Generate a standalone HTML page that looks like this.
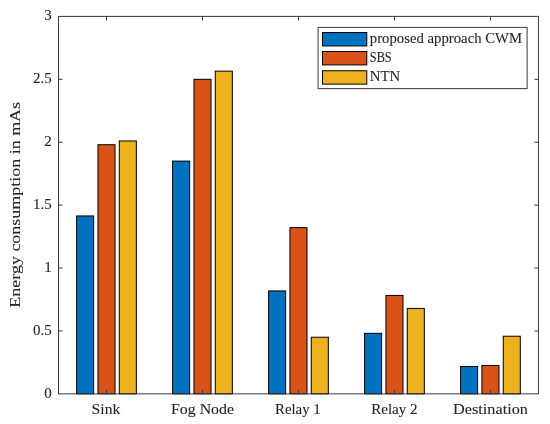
<!DOCTYPE html>
<html lang="en">
<head>
<meta charset="utf-8">
<title>Energy consumption in mAs</title>
<style>
html,body{margin:0;padding:0;background:#fff;}
svg{display:block;}
text{font-family:"Liberation Serif",serif;fill:#262626;stroke:#262626;stroke-width:0.1px;}
.tk{font-size:15px;}
.yl{font-size:15px;}
</style>
</head>
<body>
<svg width="550" height="424" viewBox="0 0 550 424">
<rect x="0" y="0" width="550" height="424" fill="#ffffff"/>
<g stroke="#000" stroke-width="1" stroke-linejoin="miter">
<rect x="76.63" y="215.95" width="17.06" height="177.90" fill="#0072BD"/>
<rect x="97.96" y="144.73" width="17.06" height="249.12" fill="#D95319"/>
<rect x="119.29" y="140.96" width="17.06" height="252.89" fill="#EDB120"/>
<rect x="172.62" y="161.09" width="17.06" height="232.76" fill="#0072BD"/>
<rect x="193.95" y="79.31" width="17.06" height="314.54" fill="#D95319"/>
<rect x="215.28" y="71.13" width="17.06" height="322.72" fill="#EDB120"/>
<rect x="268.61" y="290.93" width="17.06" height="102.92" fill="#0072BD"/>
<rect x="289.94" y="227.65" width="17.06" height="166.20" fill="#D95319"/>
<rect x="311.27" y="337.23" width="17.06" height="56.62" fill="#EDB120"/>
<rect x="364.60" y="333.33" width="17.06" height="60.52" fill="#0072BD"/>
<rect x="385.93" y="295.46" width="17.06" height="98.39" fill="#D95319"/>
<rect x="407.26" y="308.42" width="17.06" height="85.43" fill="#EDB120"/>
<rect x="460.59" y="366.55" width="17.06" height="27.30" fill="#0072BD"/>
<rect x="481.92" y="365.54" width="17.06" height="28.31" fill="#D95319"/>
<rect x="503.25" y="336.23" width="17.06" height="57.62" fill="#EDB120"/>
</g>
<g stroke="#3a3a3a" stroke-width="1" fill="none">
<rect x="58.50" y="16.40" width="479.95" height="377.45"/>
<path d="M106.50 393.85v-4.00 M106.50 16.40v4.00 M202.49 393.85v-4.00 M202.49 16.40v4.00 M298.48 393.85v-4.00 M298.48 16.40v4.00 M394.47 393.85v-4.00 M394.47 16.40v4.00 M490.46 393.85v-4.00 M490.46 16.40v4.00 M58.50 330.94h4.00 M538.45 330.94h-4.00 M58.50 268.03h4.00 M538.45 268.03h-4.00 M58.50 205.12h4.00 M538.45 205.12h-4.00 M58.50 142.22h4.00 M538.45 142.22h-4.00 M58.50 79.31h4.00 M538.45 79.31h-4.00"/>
</g>
<text class="tk" x="51.7" y="397.55" text-anchor="end">0</text>
<text class="tk" x="51.7" y="334.64" text-anchor="end">0.5</text>
<text class="tk" x="51.7" y="271.73" text-anchor="end">1</text>
<text class="tk" x="51.7" y="208.82" text-anchor="end">1.5</text>
<text class="tk" x="51.7" y="145.92" text-anchor="end">2</text>
<text class="tk" x="51.7" y="83.01" text-anchor="end">2.5</text>
<text class="tk" x="51.7" y="20.10" text-anchor="end">3</text>
<text class="tk" x="106.00" y="413.6" text-anchor="middle" textLength="28.8" lengthAdjust="spacingAndGlyphs">Sink</text>
<text class="tk" x="202.49" y="413.6" text-anchor="middle" textLength="62.9" lengthAdjust="spacingAndGlyphs">Fog Node</text>
<text class="tk" x="297.88" y="413.6" text-anchor="middle" textLength="45.8" lengthAdjust="spacingAndGlyphs">Relay 1</text>
<text class="tk" x="394.37" y="413.6" text-anchor="middle" textLength="46.3" lengthAdjust="spacingAndGlyphs">Relay 2</text>
<text class="tk" x="490.46" y="413.6" text-anchor="middle" textLength="74.9" lengthAdjust="spacingAndGlyphs">Destination</text>
<text class="yl" transform="translate(20.4 204.80) rotate(-90)" text-anchor="middle" textLength="205.7" lengthAdjust="spacingAndGlyphs">Energy consumption in mAs</text>
<rect x="318.1" y="27.4" width="209" height="61.2" fill="#fff" stroke="#3a3a3a" stroke-width="1"/>
<rect x="322.5" y="32.55" width="44.3" height="13.4" fill="#0072BD" stroke="#000" stroke-width="1"/>
<text class="tk" x="369.8" y="42.85" textLength="152.3" lengthAdjust="spacingAndGlyphs">proposed approach CWM</text>
<rect x="322.5" y="51.50" width="44.3" height="13.4" fill="#D95319" stroke="#000" stroke-width="1"/>
<text class="tk" x="369.8" y="61.80" textLength="21.9" lengthAdjust="spacingAndGlyphs">SBS</text>
<rect x="322.5" y="70.75" width="44.3" height="13.4" fill="#EDB120" stroke="#000" stroke-width="1"/>
<text class="tk" x="369.8" y="81.05" textLength="30.3" lengthAdjust="spacingAndGlyphs">NTN</text>
</svg>
</body>
</html>
